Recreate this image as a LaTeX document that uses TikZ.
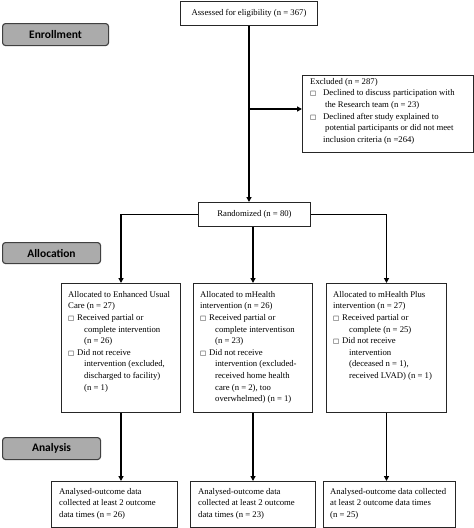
\documentclass[tikz,border=0pt]{standalone}
\usepackage{fontspec}
\setmainfont{Liberation Serif}
\newfontfamily\lblfont{Carlito}
\newfontfamily\symfont{DejaVu Sans}
\usetikzlibrary{arrows.meta}
\newcommand{\bx}{{\symfont\fontsize{6.5}{6.5}\selectfont □}}
\newcommand{\bi}[1]{\makebox[#1][l]{\bx}}
\tikzset{
  box/.style={draw=black!85, line width=1pt, inner sep=0pt, anchor=north west},
  txt/.style={anchor=north west, align=left, inner sep=0pt, font=\fontsize{8.7}{11.6}\selectfont},
  ctxt/.style={font=\fontsize{8.7}{10}\selectfont},
  phase/.style={draw=black!75, fill=black!33, rounded corners=3pt, line width=1.1pt, inner sep=0pt,
    anchor=north west, font=\lblfont\bfseries\fontsize{11.5}{13}\selectfont},
  conn/.style={line width=1.6pt, black},
  arr/.style={conn, -{Triangle[length=5pt,width=5pt]}}
}
\begin{document}
\begin{tikzpicture}[x=1pt,y=-1pt]
\useasboundingbox (0,0) rectangle (474,528);
% phase labels
\node[phase, minimum width=106pt, minimum height=22pt] (enroll) at (2,23) {Enrollment};
\node[phase, minimum width=98pt, minimum height=21pt] (alloc) at (2,242) {Allocation};
\node[phase, minimum width=98pt, minimum height=22pt] (anal) at (2,437) {Analysis};
% boxes
\node[box, ctxt, minimum width=137pt, minimum height=24pt] (assess) at (180,1) {Assessed for eligibility (n = 367)};
\node[box, minimum width=171pt, minimum height=77pt] (excl) at (302,75) {};
\node[box, ctxt, minimum width=112pt, minimum height=24pt] (rand) at (198,202) {Randomized (n = 80)};
\node[box, minimum width=119pt, minimum height=129pt] (a1) at (61,283) {};
\node[box, minimum width=119pt, minimum height=129pt] (a2) at (193,283) {};
\node[box, minimum width=120pt, minimum height=129pt] (a3) at (326,283) {};
\node[box, minimum width=126pt, minimum height=46pt] (n1) at (51,481) {};
\node[box, minimum width=125pt, minimum height=46pt] (n2) at (190,481) {};
\node[box, minimum width=132pt, minimum height=46pt] (n3) at (323,481) {};
% texts
\node[txt] (excltxt) at (310,78) {Excluded (n = 287)\\
\bi{13pt}Declined to discuss participation with\\
\hspace*{15pt}the Research team (n = 23)\\
\bi{13pt}Declined after study explained to\\
\hspace*{15pt}potential participants or did not meet\\
\hspace*{13pt}inclusion criteria (n =264)};
\node[txt] (a1txt) at (68,291) {Allocated to Enhanced Usual\\
Care (n = 27)\\
\bi{9pt}Received partial or\\
\hspace*{16pt}complete intervention\\
\hspace*{16pt}(n = 26)\\
\bi{9pt}Did not receive\\
\hspace*{16pt}intervention (excluded,\\
\hspace*{16pt}discharged to facility)\\
\hspace*{16pt}(n = 1)};
\node[txt] (a2txt) at (200,291) {Allocated to mHealth\\
intervention (n = 26)\\
\bi{9pt}Received partial or\\
\hspace*{15pt}complete interventison\\
\hspace*{15pt}(n = 23)\\
\bi{9pt}Did not receive\\
\hspace*{15pt}intervention (excluded-\\
\hspace*{15pt}received home health\\
\hspace*{15pt}care (n = 2), too\\
\hspace*{15pt}overwhelmed) (n = 1)};
\node[txt] (a3txt) at (333,291) {Allocated to mHealth Plus\\
intervention (n = 27)\\
\bi{9pt}Received partial or\\
\hspace*{16pt}complete (n = 25)\\
\bi{9pt}Did not receive\\
\hspace*{16pt}intervention\\
\hspace*{16pt}(deceased n = 1),\\
\hspace*{16pt}received LVAD) (n = 1)};
\node[txt] (n1txt) at (59,488) {Analysed-outcome data\\collected at least 2 outcome\\data times (n = 26)};
\node[txt] (n2txt) at (198,488) {Analysed-outcome data\\collected at least 2 outcome\\data times (n = 23)};
\node[txt] (n3txt) at (330,488) {Analysed-outcome data collected\\at least 2 outcome data times\\(n = 25)};
% connectors
\draw[arr] (assess.south) -- (assess.south |- rand.north);
\coordinate (brk) at (assess.south |- 0,109);
\draw[arr] (brk) -- (brk -| excl.west);
\draw[arr] (rand.west) -| (a1.north);
\draw[arr] (rand.east) -| (a3.north);
\draw[arr] (rand.south -| a2.north) -- (a2.north);
\draw[arr] (a1.south) -- (a1.south |- n1.north);
\draw[arr] (a2.south) -- (a2.south |- n2.north);
\draw[arr] (a3.south) -- (a3.south |- n3.north);
\end{tikzpicture}
\end{document}
